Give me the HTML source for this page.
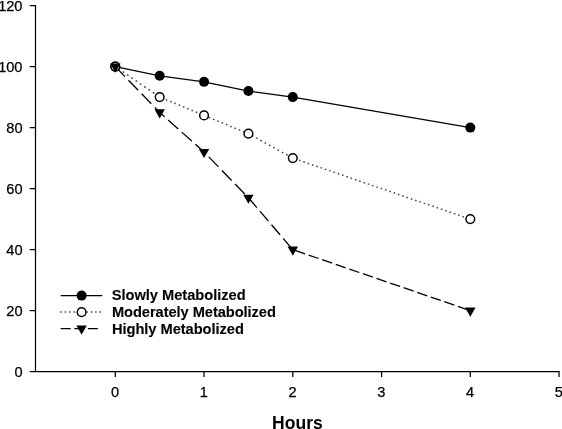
<!DOCTYPE html><html><head><meta charset="utf-8"><title>Chart</title><style>html,body{margin:0;padding:0;background:#fff;overflow:hidden}svg{display:block}text{font-family:"Liberation Sans",Arial,sans-serif;fill:#000}</style></head><body>
<svg width="562" height="429" viewBox="0 0 562 429">
<rect width="562" height="429" fill="#fff"/>
<g stroke="#000" stroke-width="1.25" fill="none" stroke-linejoin="miter">
<path d="M29.7,5.62 H35.5 V371.62 H559.05 V377.12"/>
<path d="M29.7,371.62 H35.5"/>
<path d="M29.7,310.62 H35.5"/>
<path d="M29.7,249.62 H35.5"/>
<path d="M29.7,188.62 H35.5"/>
<path d="M29.7,127.62 H35.5"/>
<path d="M29.7,66.62 H35.5"/>
<path d="M115.30,371.62 V377.12"/>
<path d="M204.05,371.62 V377.12"/>
<path d="M292.80,371.62 V377.12"/>
<path d="M381.55,371.62 V377.12"/>
<path d="M470.30,371.62 V377.12"/>
</g>
<g font-size="14.6" stroke="#000" stroke-width="0.25">
<text x="22.5" y="376.72" text-anchor="end">0</text>
<text x="22.5" y="315.72" text-anchor="end">20</text>
<text x="22.5" y="254.72" text-anchor="end">40</text>
<text x="22.5" y="193.72" text-anchor="end">60</text>
<text x="22.5" y="132.72" text-anchor="end">80</text>
<text x="22.5" y="71.72" text-anchor="end">100</text>
<text x="22.5" y="10.72" text-anchor="end">120</text>
<text x="115.00" y="396.8" text-anchor="middle">0</text>
<text x="203.75" y="396.8" text-anchor="middle">1</text>
<text x="292.50" y="396.8" text-anchor="middle">2</text>
<text x="381.25" y="396.8" text-anchor="middle">3</text>
<text x="470.00" y="396.8" text-anchor="middle">4</text>
<text x="558.75" y="396.8" text-anchor="middle">5</text>
</g>
<text x="297.4" y="428.8" font-size="17.5" font-weight="bold" text-anchor="middle">Hours</text>
<g fill="none" stroke="#000" stroke-width="1.3">
<polyline points="115.30,66.62 159.68,75.77 204.05,81.87 248.43,91.02 292.80,97.12 470.30,127.62"/>
<path d="M115.30,66.62L115.60,66.83M118.40,68.75L119.90,69.78M122.70,71.71L124.20,72.74M127.00,74.66L128.50,75.69M131.30,77.62L132.80,78.65M135.60,80.57L137.10,81.60M139.90,83.53L141.40,84.56M144.20,86.48L145.70,87.51M148.50,89.44L150.00,90.47M152.80,92.39L154.30,93.43M157.10,95.35L158.60,96.38M161.40,97.83L162.90,98.45M165.70,99.60L167.20,100.22M170.00,101.38L171.50,102.00M174.30,103.15L175.80,103.77M178.60,104.92L180.10,105.54M182.90,106.70L184.40,107.32M187.20,108.47L188.70,109.09M191.50,110.24L193.00,110.86M195.80,112.02L197.30,112.64M200.10,113.79L201.60,114.41M204.40,115.56L205.90,116.18M208.70,117.34L210.20,117.96M213.00,119.11L214.50,119.73M217.30,120.88L218.80,121.50M221.60,122.66L223.10,123.28M225.90,124.43L227.40,125.05M230.20,126.20L231.70,126.82M234.50,127.98L236.00,128.60M238.80,129.75L240.30,130.37M243.10,131.52L244.60,132.14M247.40,133.30L248.43,133.72M248.43,133.72L248.90,133.98M251.70,135.52L253.20,136.35M256.00,137.89L257.50,138.71M260.30,140.25L261.80,141.07M264.60,142.61L266.10,143.44M268.90,144.98L270.40,145.80M273.20,147.34L274.70,148.17M277.50,149.71L279.00,150.53M281.80,152.07L283.30,152.90M286.10,154.44L287.60,155.26M290.40,156.80L291.90,157.63M294.70,158.77L296.20,159.29M299.00,160.25L300.50,160.77M303.30,161.73L304.80,162.24M307.60,163.21L309.10,163.72M311.90,164.68L313.40,165.20M316.20,166.16L317.70,166.68M320.50,167.64L322.00,168.15M324.80,169.12L326.30,169.63M329.10,170.59L330.60,171.11M333.40,172.07L334.90,172.59M337.70,173.55L339.20,174.07M342.00,175.03L343.50,175.54M346.30,176.51L347.80,177.02M350.60,177.98L352.10,178.50M354.90,179.46L356.40,179.98M359.20,180.94L360.70,181.45M363.50,182.42L365.00,182.93M367.80,183.89L369.30,184.41M372.10,185.37L373.60,185.89M376.40,186.85L377.90,187.37M380.70,188.33L382.20,188.84M385.00,189.81L386.50,190.32M389.30,191.28L390.80,191.80M393.60,192.76L395.10,193.28M397.90,194.24L399.40,194.75M402.20,195.72L403.70,196.23M406.50,197.19L408.00,197.71M410.80,198.67L412.30,199.19M415.10,200.15L416.60,200.67M419.40,201.63L420.90,202.14M423.70,203.11L425.20,203.62M428.00,204.58L429.50,205.10M432.30,206.06L433.80,206.58M436.60,207.54L438.10,208.05M440.90,209.02L442.40,209.53M445.20,210.49L446.70,211.01M449.50,211.97L451.00,212.49M453.80,213.45L455.30,213.97M458.10,214.93L459.60,215.44M462.40,216.41L463.90,216.92M466.70,217.88L468.20,218.40" stroke-width="1.5" stroke="#4a4a4a"/>
<path d="M115.30,66.62L125.00,76.62M128.46,80.19L138.16,90.19M141.62,93.76L151.32,103.76M154.79,107.33L159.68,112.37M159.68,112.37L164.64,116.80M168.21,119.99L178.21,128.93M181.78,132.12L191.78,141.05M195.35,144.24L204.05,152.02M204.05,152.02L205.31,153.31M208.77,156.89L218.47,166.89M221.93,170.46L231.63,180.46M235.09,184.03L244.79,194.03M248.26,197.59L248.43,197.77M248.43,197.77L256.83,207.59M259.89,211.17L268.45,221.17M271.50,224.74L280.06,234.74M283.12,238.31L291.67,248.31M295.06,250.39L305.06,253.83M308.62,255.06L318.62,258.50M322.20,259.72L332.20,263.16M335.76,264.39L345.76,267.82M349.34,269.05L359.34,272.49M362.90,273.71L372.90,277.15M376.48,278.38L386.48,281.81M390.05,283.04L400.05,286.48M403.62,287.70L413.62,291.14M417.19,292.37L427.19,295.80M430.75,297.03L440.75,300.47M444.33,301.69L454.33,305.13M457.89,306.36L467.89,309.79"/>
<path d="M60.7,295.7 H102.3"/>
<path d="M60.3,311.95 H101.9" stroke-dasharray="1.5 2.85" stroke-width="1.5" stroke="#4a4a4a"/>
<path d="M60.7,328.7 H100" stroke-dasharray="10 3.6"/>
</g>
<g fill="#000">
<circle cx="115.30" cy="66.62" r="5"/>
<circle cx="159.68" cy="75.77" r="5"/>
<circle cx="204.05" cy="81.87" r="5"/>
<circle cx="248.43" cy="91.02" r="5"/>
<circle cx="292.80" cy="97.12" r="5"/>
<circle cx="470.30" cy="127.62" r="5"/>
<circle cx="81.6" cy="295.6" r="5"/>
</g>
<g fill="#fff" stroke="#000" stroke-width="1.5">
<circle cx="115.30" cy="66.62" r="4.35"/>
<circle cx="159.68" cy="97.12" r="4.35"/>
<circle cx="204.05" cy="115.42" r="4.35"/>
<circle cx="248.43" cy="133.72" r="4.35"/>
<circle cx="292.80" cy="158.12" r="4.35"/>
<circle cx="470.30" cy="219.12" r="4.35"/>
<circle cx="81.6" cy="312.2" r="4.35"/>
</g>
<g fill="#000">
<polygon points="110.10,63.52 120.50,63.52 115.30,72.72"/>
<polygon points="154.48,109.27 164.88,109.27 159.68,118.47"/>
<polygon points="198.85,148.92 209.25,148.92 204.05,158.12"/>
<polygon points="243.23,194.67 253.62,194.67 248.43,203.87"/>
<polygon points="287.60,246.52 298.00,246.52 292.80,255.72"/>
<polygon points="465.10,307.52 475.50,307.52 470.30,316.72"/>
<polygon points="76.40,325.60 86.80,325.60 81.60,334.80"/>
</g>
<g font-size="14.67" font-weight="bold" stroke="#000" stroke-width="0.1">
<text x="111.7" y="300.1" textLength="134" lengthAdjust="spacing">Slowly Metabolized</text>
<text x="111.9" y="317.1" textLength="164" lengthAdjust="spacing">Moderately Metabolized</text>
<text x="111.9" y="334.4" textLength="132" lengthAdjust="spacing">Highly Metabolized</text>
</g>
</svg></body></html>
